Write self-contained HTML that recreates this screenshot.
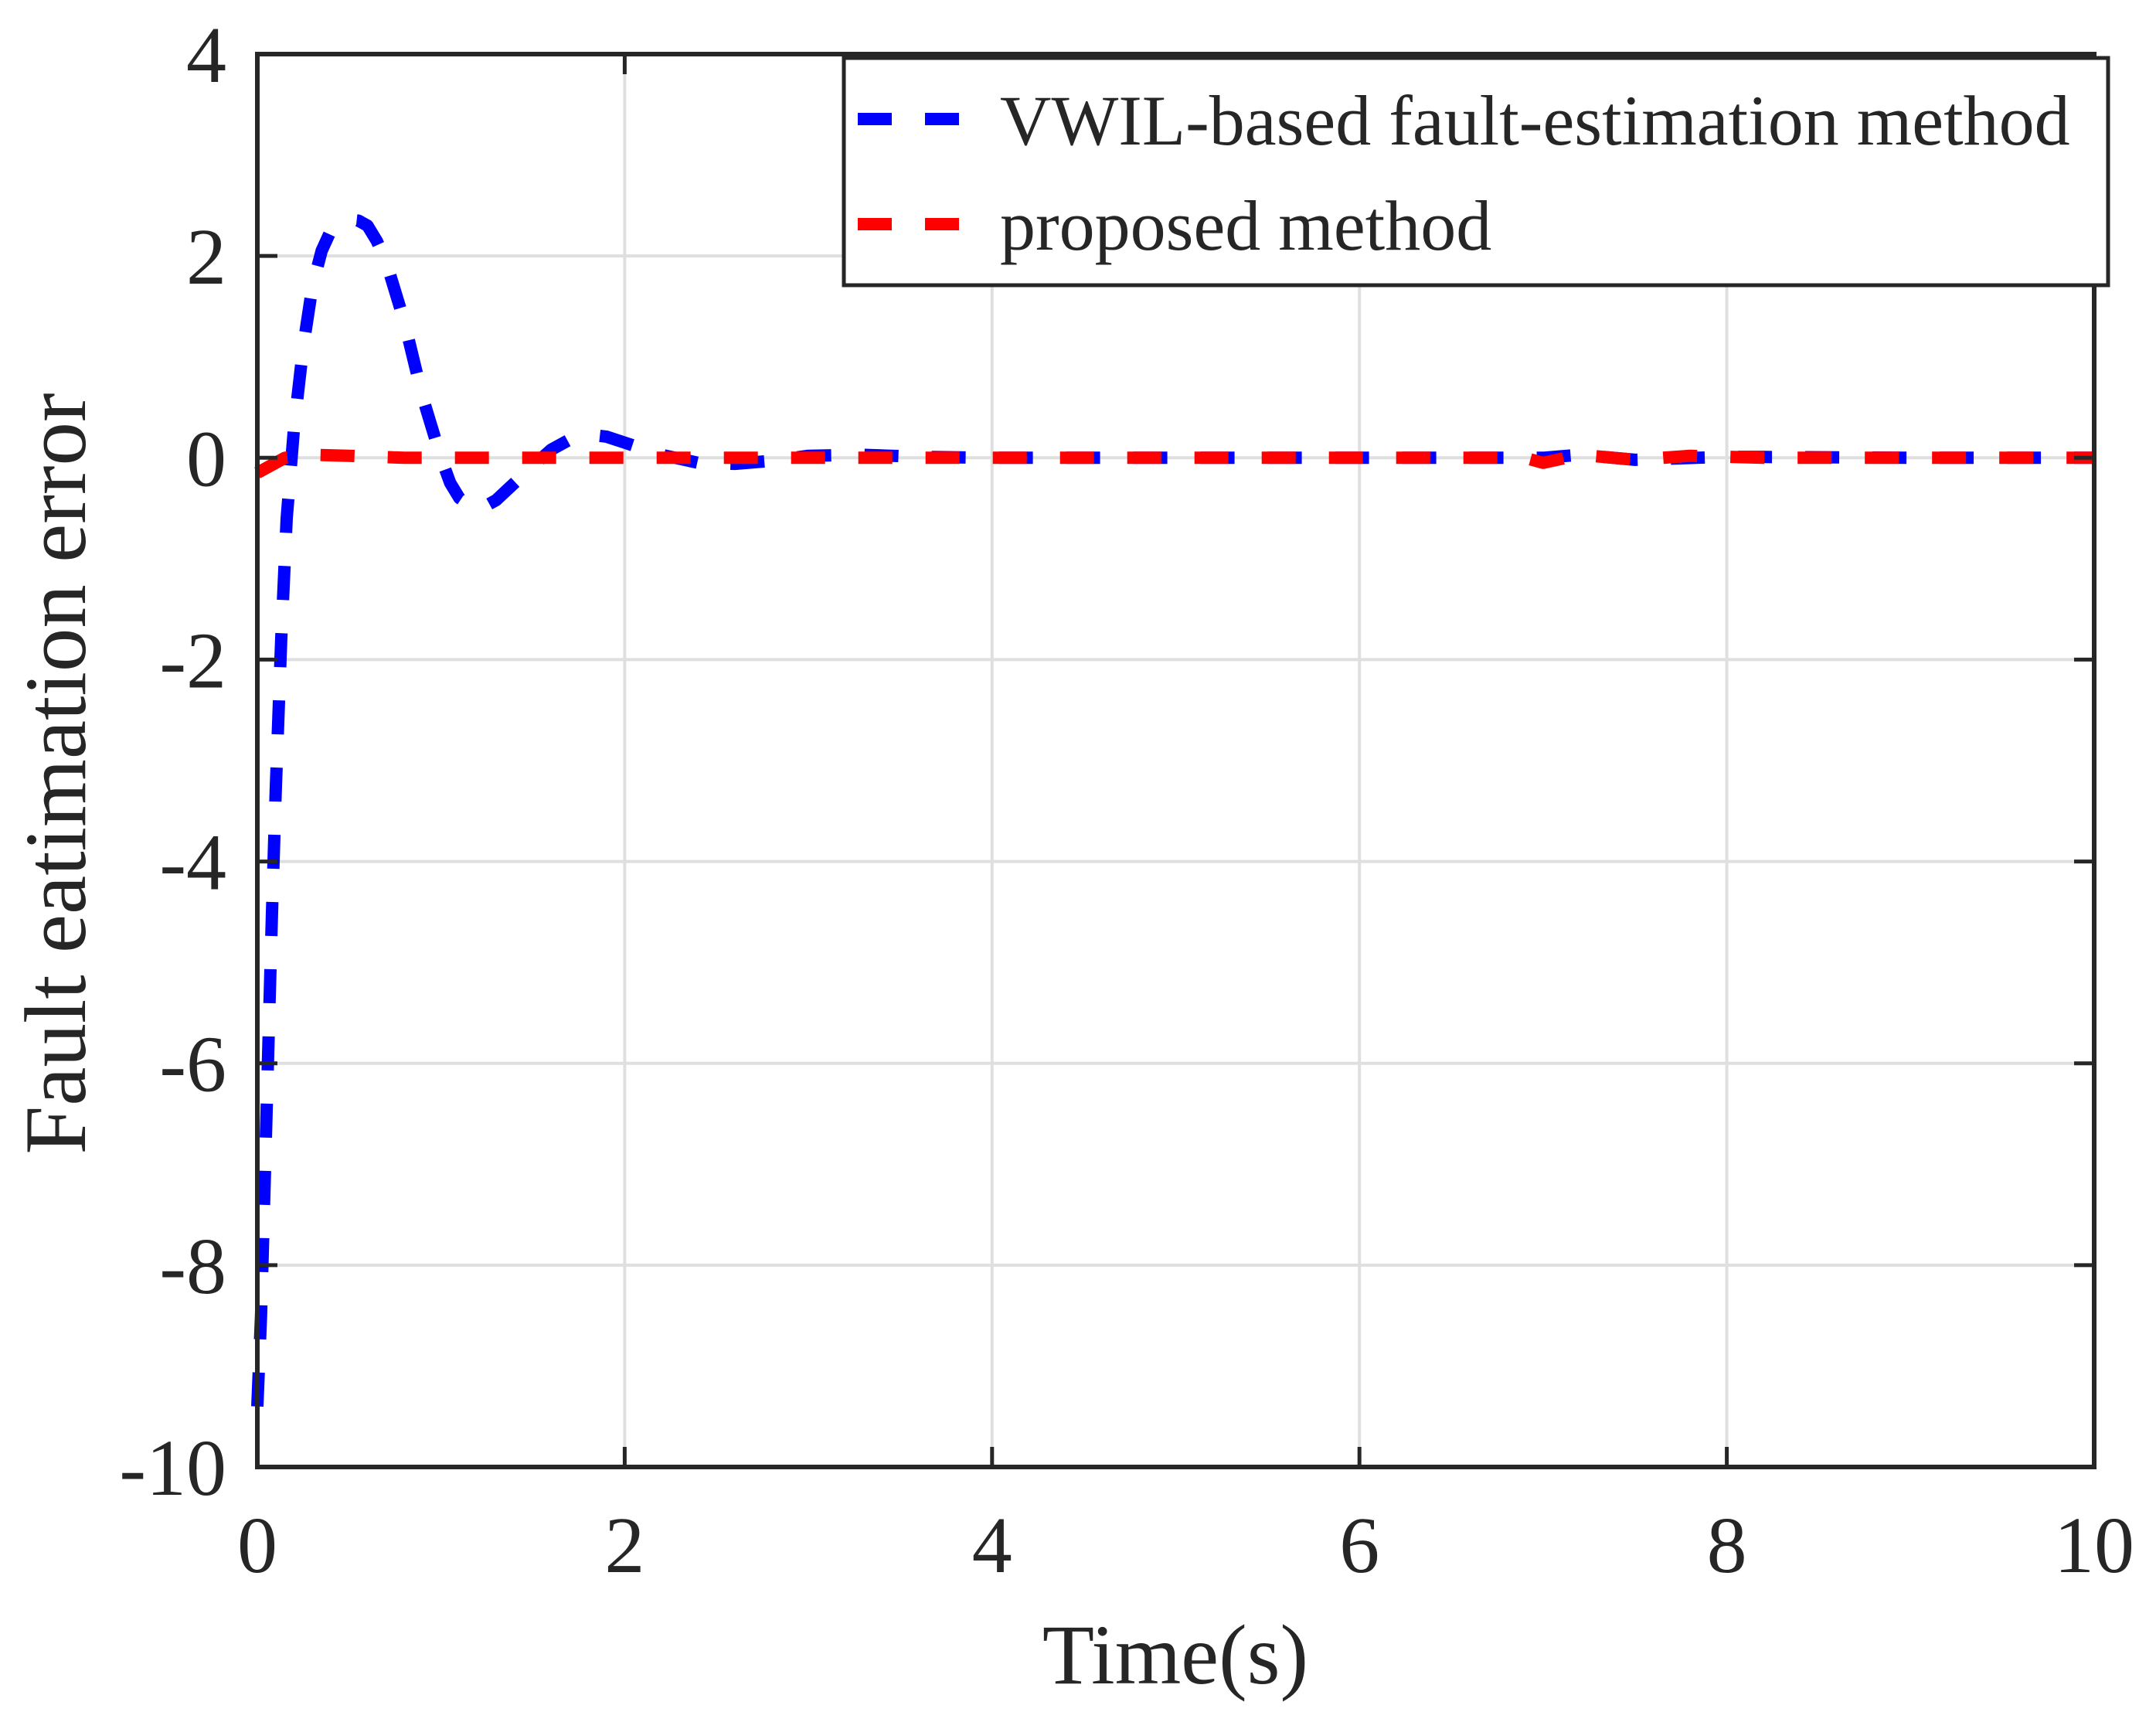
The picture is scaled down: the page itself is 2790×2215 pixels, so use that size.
<!DOCTYPE html>
<html><head><meta charset="utf-8"><style>
html,body{margin:0;padding:0;background:#fff;}
svg{display:block;}
text{font-family:"Liberation Serif",serif;fill:#262626;}
</style></head><body>
<svg id="chart" width="2790" height="2215" viewBox="0 0 2790 2215" xmlns="http://www.w3.org/2000/svg">
<rect width="2790" height="2215" fill="#fff"/>
<g id="grid"></g>
<g id="series"></g>
<g id="axes"></g>
<text x="1521" y="2178" font-size="110" text-anchor="middle">Time(s)</text>
<text transform="translate(110,1001) rotate(-90)" font-size="113" text-anchor="middle">Fault eatimation error</text>
<g>
<rect x="1092" y="75" width="1636" height="294" fill="#fff" stroke="#262626" stroke-width="5"/>
<line x1="1110" y1="154" x2="1242" y2="154" stroke="#0000ff" stroke-width="16" stroke-dasharray="44,43"/>
<text x="1294" y="187" font-size="92" fill="#000">VWIL-based fault-estimation method</text>
<line x1="1110" y1="290" x2="1242" y2="290" stroke="#ff0000" stroke-width="16" stroke-dasharray="44,43"/>
<text x="1294" y="323" font-size="92" fill="#000">proposed method</text>
</g>
</svg>
<script>
const xTicks = [0, 2, 4, 6, 8, 10];
const yTicks = [-10, -8, -6, -4, -2, 0, 2, 4];
const timeVWIL = [0, 0.02, 0.05, 0.08, 0.1, 0.13, 0.16, 0.2, 0.25, 0.3, 0.35, 0.4, 0.45, 0.5, 0.55, 0.6, 0.65, 0.7, 0.8, 0.9, 1.0, 1.05, 1.1, 1.2, 1.3, 1.4, 1.5, 1.6, 1.7, 1.8, 1.9, 2.0, 2.2, 2.4, 2.6, 2.8, 3.0, 3.3, 3.6, 4.0, 5.0, 6.0, 7.0, 7.2, 7.5, 8.0, 9.0, 10.0];
const errVWIL = [-9.4, -8.5, -6.5, -4.5, -3.3, -1.8, -0.6, 0.3, 1.1, 1.7, 2.05, 2.25, 2.33, 2.36, 2.35, 2.3, 2.15, 1.95, 1.35, 0.6, 0.0, -0.25, -0.4, -0.52, -0.42, -0.25, -0.08, 0.08, 0.18, 0.23, 0.21, 0.15, 0.03, -0.05, -0.06, -0.03, 0.02, 0.03, 0.01, 0.0, 0.0, 0.0, 0.0, 0.03, -0.02, 0.01, 0.0, 0.0];
const timeProp = [0, 0.15, 0.3, 0.5, 0.8, 1.5, 3.0, 5.0, 6.9, 7.0, 7.2, 7.5, 7.8, 8.2, 10.0];
const errProp = [-0.15, 0.0, 0.03, 0.02, 0.0, 0.0, 0.0, 0.0, 0.0, -0.05, 0.03, -0.02, 0.02, 0.0, 0.0];

const L = 333, R = 2710, T = 70, B = 1898;
const xMin = 0, xMax = 10, yMin = -10, yMax = 4;
function xs(v){ return L + (v - xMin) / (xMax - xMin) * (R - L); }
function ys(v){ return B - (v - yMin) / (yMax - yMin) * (B - T); }
const NS = 'http://www.w3.org/2000/svg';
function mk(tag, attrs, parent){
  const e = document.createElementNS(NS, tag);
  for (const k in attrs) e.setAttribute(k, attrs[k]);
  parent.appendChild(e);
  return e;
}
const grid = document.getElementById('grid');
const axes = document.getElementById('axes');
const series = document.getElementById('series');

xTicks.forEach(t => {
  const x = xs(t);
  if (t !== xMin && t !== xMax) {
    const g = mk('line', {x1:x, y1:T, x2:x, y2:B, stroke:'#dfdfdf', 'stroke-width':4}, grid);
    
    
  }
  const tk = mk('line', {x1:x, y1:B, x2:x, y2:B-26, stroke:'#262626', 'stroke-width':5}, axes);
  
  
  const tk2 = mk('line', {x1:x, y1:T, x2:x, y2:T+26, stroke:'#262626', 'stroke-width':5}, axes);
  
  
  const lb = mk('text', {x:x, y:2034, 'font-size':104, 'text-anchor':'middle'}, axes);
  lb.textContent = String(t);
  
  
});
yTicks.forEach(t => {
  const y = ys(t);
  if (t !== yMin && t !== yMax) {
    const g = mk('line', {x1:L, y1:y, x2:R, y2:y, stroke:'#dfdfdf', 'stroke-width':4}, grid);
    
    
  }
  const tk = mk('line', {x1:L, y1:y, x2:L+26, y2:y, stroke:'#262626', 'stroke-width':5}, axes);
  
  
  const tk2 = mk('line', {x1:R, y1:y, x2:R-26, y2:y, stroke:'#262626', 'stroke-width':5}, axes);
  
  
  const lb = mk('text', {x:293, y:y+36, 'font-size':104, 'text-anchor':'end'}, axes);
  lb.textContent = String(t);
  
  
});
const frame = mk('rect', {x:L, y:T, width:R-L, height:B-T, fill:'none', stroke:'#262626', 'stroke-width':6}, axes);



function pathFrom(tx, vy){
  return tx.map((t,i) => (i ? 'L' : 'M') + xs(t).toFixed(1) + ',' + ys(vy[i]).toFixed(1)).join(' ');
}
const pb = mk('path', {d:pathFrom(timeVWIL, errVWIL), fill:'none', stroke:'#0000ff', 'stroke-width':16, 'stroke-dasharray':'44,43', 'stroke-linejoin':'round'}, series);


const pr = mk('path', {d:pathFrom(timeProp, errProp), fill:'none', stroke:'#ff0000', 'stroke-width':16, 'stroke-dasharray':'44,43', 'stroke-linejoin':'round'}, series);


</script>
</body></html>
